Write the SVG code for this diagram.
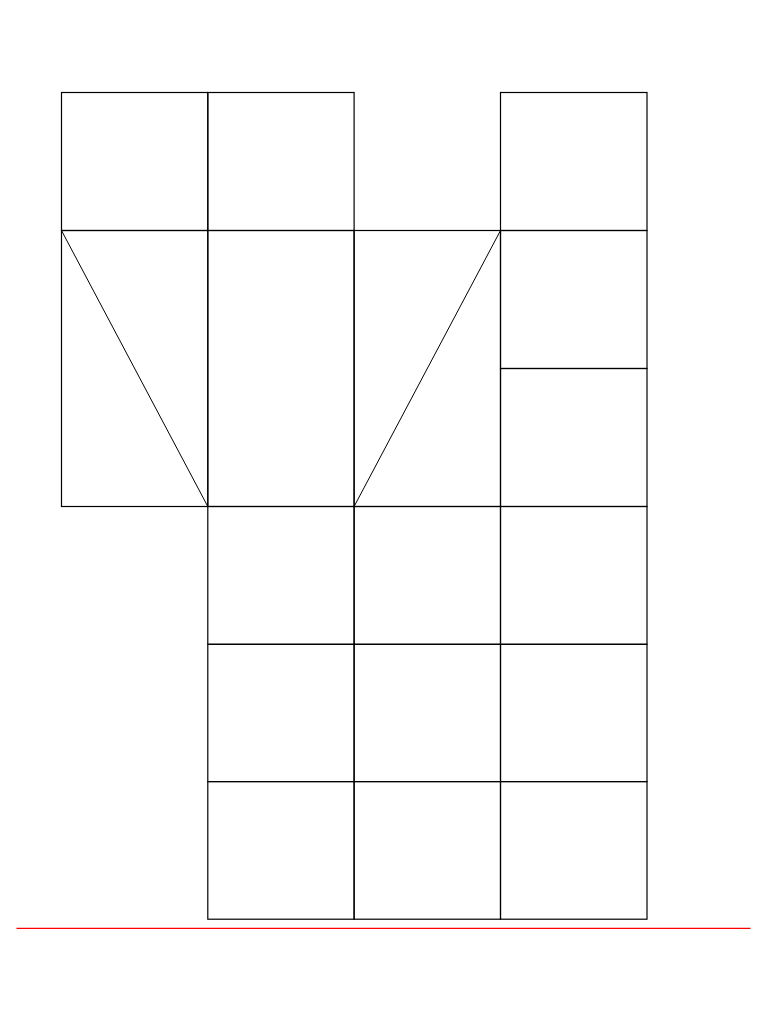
<svg xmlns="http://www.w3.org/2000/svg" width="768" height="1024" viewBox="0 0 768 1024">
<style>
.c{fill:none;stroke:#000;stroke-width:1.2}
.d{stroke:#000;stroke-width:1}
.r{stroke:#ff0000;stroke-width:1.2}
</style>
<rect width="768" height="1024" fill="#fff"/>
<g id="cells">
<rect id="r1c1" class="c" x="61.5" y="92.5" width="146.3" height="138"/>
<rect id="r1c2" class="c" x="207.8" y="92.5" width="146.3" height="138"/>
<rect id="r1c4" class="c" x="500.5" y="92.5" width="146.5" height="138"/>
<rect id="r2c1" class="c" x="61.5" y="230.5" width="146.3" height="276"/>
<rect id="r2c2" class="c" x="207.8" y="230.5" width="146.3" height="276"/>
<rect id="r2c3" class="c" x="354.1" y="230.5" width="146.4" height="276"/>
<rect id="r2c4" class="c" x="500.5" y="230.5" width="146.5" height="138"/>
<rect id="r3c4" class="c" x="500.5" y="368.5" width="146.5" height="138"/>
<rect id="r4c2" class="c" x="207.8" y="506.5" width="146.3" height="137.8"/>
<rect id="r4c3" class="c" x="354.1" y="506.5" width="146.4" height="137.8"/>
<rect id="r4c4" class="c" x="500.5" y="506.5" width="146.5" height="137.8"/>
<rect id="r5c2" class="c" x="207.8" y="644.3" width="146.3" height="137.3"/>
<rect id="r5c3" class="c" x="354.1" y="644.3" width="146.4" height="137.3"/>
<rect id="r5c4" class="c" x="500.5" y="644.3" width="146.5" height="137.3"/>
<rect id="r6c2" class="c" x="207.8" y="781.6" width="146.3" height="137.6"/>
<rect id="r6c3" class="c" x="354.1" y="781.6" width="146.4" height="137.6"/>
<rect id="r6c4" class="c" x="500.5" y="781.6" width="146.5" height="137.6"/>
</g>
<g id="connectors">
<line class="d" x1="61.5" y1="230.5" x2="207.8" y2="506.5"/>
<line class="d" x1="500.5" y1="230.5" x2="354.1" y2="506.5"/>
<line class="r" x1="16.5" y1="928.3" x2="750.5" y2="928.3"/>
</g>
</svg>
